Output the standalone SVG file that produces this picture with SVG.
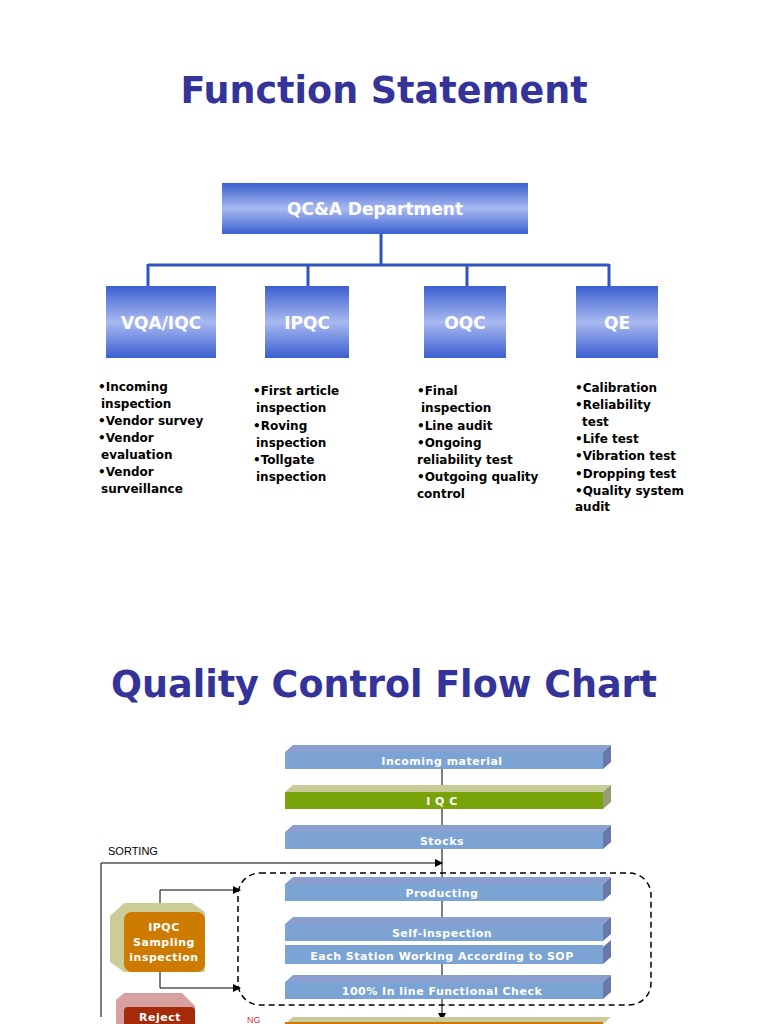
<svg xmlns="http://www.w3.org/2000/svg" width="768" height="1024" viewBox="0 0 768 1024">
<defs>
<linearGradient id="bg" x1="0" y1="0" x2="0" y2="1"><stop offset="0" stop-color="#3a5fd0"/><stop offset="0.5" stop-color="#a9b9f0"/><stop offset="1" stop-color="#3a5fd0"/></linearGradient>
<marker id="ah" markerWidth="8" markerHeight="8" refX="7" refY="4" orient="auto" markerUnits="userSpaceOnUse"><path d="M0,0 L8,4 L0,8 z" fill="#000"/></marker>
<style>
.t{font-family:"DejaVu Sans",Verdana,sans-serif;font-weight:bold;fill:#333399;font-size:36.5px;text-anchor:middle}
.bx{fill:url(#bg)}
.bl{font-family:"DejaVu Sans",Verdana,sans-serif;font-weight:bold;fill:#fff;font-size:17px;text-anchor:middle}
.li{font-family:"DejaVu Sans",Verdana,sans-serif;font-weight:bold;fill:#000;font-size:12px}
.org{stroke:#2e55c0;stroke-width:3;fill:none}
.bar{fill:#7ba3d3}
.bt{fill:#8a9fd0}
.bs{fill:#6878a8}
.ft{font-family:"DejaVu Sans",Verdana,sans-serif;font-weight:bold;fill:#fff;font-size:11px;text-anchor:middle;letter-spacing:0.5px}
.ln{stroke:#000;stroke-width:1;fill:none}
</style>
</defs>
<rect width="768" height="1024" fill="#fff"/>
<text class="t" x="384" y="103">Function Statement</text>
<g id="connectors-org">
<path class="org" d="M381,234 V265 M148,265 H609 M148,264 V286 M308,264 V286 M467,264 V286 M609,264 V286"/>
</g>
<g id="qca"><rect class="bx" x="222" y="183" width="306" height="51"/><text class="bl" x="375" y="215">QC&amp;A Department</text></g>
<g id="vqa"><rect class="bx" x="106" y="286" width="110" height="72"/><text class="bl" x="161" y="329">VQA/IQC</text></g>
<g id="ipqc"><rect class="bx" x="265" y="286" width="84" height="72"/><text class="bl" x="307" y="329">IPQC</text></g>
<g id="oqc"><rect class="bx" x="424" y="286" width="82" height="72"/><text class="bl" x="465" y="329">OQC</text></g>
<g id="qe"><rect class="bx" x="576" y="286" width="82" height="72"/><text class="bl" x="617" y="329">QE</text></g>
<g id="list1" class="li"><text x="98" y="391">•Incoming</text><text x="101" y="408">inspection</text><text x="98" y="425">•Vendor survey</text><text x="98" y="442">•Vendor</text><text x="101" y="459">evaluation</text><text x="98" y="476">•Vendor</text><text x="101" y="493">surveillance</text></g>
<g id="list2" class="li"><text x="253" y="395">•First article</text><text x="256" y="412">inspection</text><text x="253" y="430">•Roving</text><text x="256" y="447">inspection</text><text x="253" y="464">•Tollgate</text><text x="256" y="481">inspection</text></g>
<g id="list3" class="li"><text x="417" y="395">•Final</text><text x="421" y="412">inspection</text><text x="417" y="430">•Line audit</text><text x="417" y="447">•Ongoing</text><text x="417" y="464">reliability test</text><text x="417" y="481">•Outgoing quality</text><text x="417" y="498">control</text></g>
<g id="list4" class="li"><text x="575" y="392">•Calibration</text><text x="575" y="409">•Reliability</text><text x="582" y="426">test</text><text x="575" y="443">•Life test</text><text x="575" y="460">•Vibration test</text><text x="575" y="478">•Dropping test</text><text x="575" y="495">•Quality system</text><text x="575" y="511">audit</text></g>
<text class="t" x="384" y="697">Quality Control Flow Chart</text>
<g id="flow-connectors">
<rect x="238" y="873" width="413" height="132" rx="22" fill="none" stroke="#000" stroke-width="1.5" stroke-dasharray="6,4"/>
<path class="ln" d="M442,769 V792" marker-end="url(#ah)"/>
<path class="ln" d="M442,809 V832" marker-end="url(#ah)"/>
<path class="ln" d="M442,849 V884" marker-end="url(#ah)"/>
<path class="ln" d="M442,901 V924" marker-end="url(#ah)"/>
<path class="ln" d="M442,964 V982" marker-end="url(#ah)"/>
<path class="ln" d="M442,999 V1020" marker-end="url(#ah)"/>
<path class="ln" d="M101,1017 V863 H442" marker-end="url(#ah)"/>
<path class="ln" d="M160,912 V890 H240" marker-end="url(#ah)"/>
<path class="ln" d="M160,972 V988 H240" marker-end="url(#ah)"/>
</g>
<g id="incoming"><path class="bt" d="M285,752 L293,745 H611 L603,752 z"/><path class="bs" d="M603,752 L611,745 V762 L603,769 z"/><rect class="bar" x="285" y="752" width="318" height="17"/><text class="ft" x="442" y="765">Incoming material</text></g>
<g id="iqc"><path d="M285,792 L293,785 H611 L603,792 z" fill="#c8cc98"/><path d="M603,792 L611,785 V802 L603,809 z" fill="#9a9a78"/><rect x="285" y="792" width="318" height="17" fill="#78a40a"/><text class="ft" x="442" y="805">I Q C</text></g>
<g id="stocks"><path class="bt" d="M285,832 L293,825 H611 L603,832 z"/><path class="bs" d="M603,832 L611,825 V842 L603,849 z"/><rect class="bar" x="285" y="832" width="318" height="17"/><text class="ft" x="442" y="845">Stocks</text></g>
<g id="producting"><path class="bt" d="M285,884 L293,877 H611 L603,884 z"/><path class="bs" d="M603,884 L611,877 V894 L603,901 z"/><rect class="bar" x="285" y="884" width="318" height="17"/><text class="ft" x="442" y="897">Producting</text></g>
<g id="self"><path class="bt" d="M285,924 L293,917 H611 L603,924 z"/><path class="bs" d="M603,924 L611,917 V934 L603,941 z"/><rect class="bar" x="285" y="924" width="318" height="17"/><text class="ft" x="442" y="937">Self-inspection</text></g>
<g id="station"><path class="bs" d="M603,947 L611,940 V957 L603,964 z"/><rect class="bar" x="285" y="945" width="318" height="19"/><text class="ft" x="442" y="960">Each Station Working According to SOP</text></g>
<g id="check"><path class="bt" d="M285,982 L293,975 H611 L603,982 z"/><path class="bs" d="M603,982 L611,975 V992 L603,999 z"/><rect class="bar" x="285" y="982" width="318" height="17"/><text class="ft" x="442" y="995">100% In line Functional Check</text></g>
<g id="oqcbar"><path d="M285,1024 L293,1017 H611 L603,1024 z" fill="#c8cc98"/><rect x="285" y="1022" width="318" height="4" fill="#d07800"/></g>
<g id="ipqc-s"><path d="M110,916 L124,903 H192 L205,912 V972 H124 L110,962 z" fill="#cccc99"/><rect x="124" y="912" width="81" height="60" rx="8" fill="#cc7a00"/><g class="ft" font-size="11.5"><text x="164" y="931">IPQC</text><text x="164" y="946">Sampling</text><text x="164" y="961">inspection</text></g></g>
<g id="reject"><path d="M116,1024 V1000 L124,993 H182 L195,1006 V1024 z" fill="#d9a0a0"/><rect x="124" y="1007" width="71" height="20" rx="4" fill="#a52a0a"/><text class="ft" x="160" y="1021" font-size="12">Reject</text></g>
<text x="108" y="855" font-family="Liberation Sans,Arial,sans-serif" font-size="11" fill="#000">SORTING</text>
<text x="247" y="1023" font-family="Liberation Sans,Arial,sans-serif" font-size="9" fill="#e03030">NG</text>
</svg>
